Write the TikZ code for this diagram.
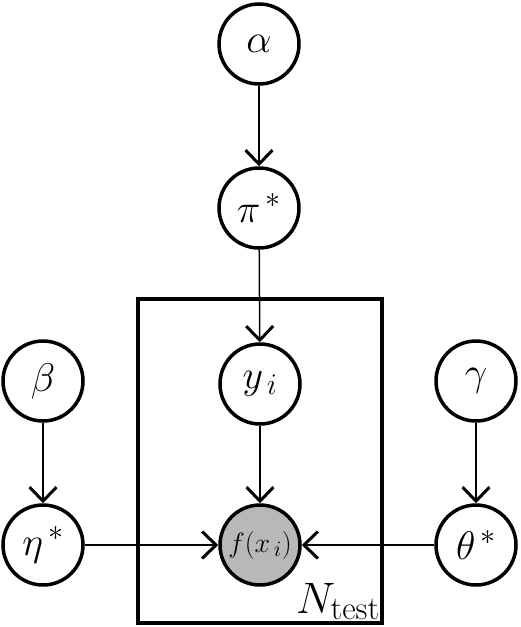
\RequirePackage{fix-cm}
\documentclass[tikz,border=0pt]{standalone}
\usetikzlibrary{arrows.meta}
\DeclareMathSizes{40}{40}{30}{22}
\DeclareMathSizes{28}{28}{22}{16}
\DeclareMathSizes{44}{44}{33}{24}
\begin{document}
\begin{tikzpicture}[x=1pt,y=-1pt,
  var/.style={circle,draw=black,line width=3.5pt,minimum size=80pt,inner sep=0pt,fill=white,font=\fontsize{40}{46}\selectfont},
  obs/.style={var,fill=black!28},
  edge/.style={line width=1.5pt,-{Straight Barb[length=14pt,width=27pt,line width=3pt]}},
  plate/.style={draw=black,line width=3.5pt}]
\useasboundingbox (0,0) rectangle (521,627);
\draw[plate] (138,299) rectangle (382,623);
\node[var] (alpha) at (259,44) {$\alpha$};
\node[var] (pi) at (259,208) {$\pi^{\,*}$};
\node[var] (y) at (260,384) {$y_{\,i}$};
\node[obs,font=\fontsize{28}{32}\selectfont] (f) at (260,545) {$f(x_{\,i})$};
\node[var] (beta) at (43,381) {$\beta$};
\node[var] (eta) at (43,545) {$\eta^{\,*}$};
\node[var] (gamma) at (476,381) {$\gamma$};
\node[var] (theta) at (476,545) {$\theta^{\,*}$};
\node[anchor=south east,inner sep=1pt,font=\fontsize{44}{50}\selectfont] (N) at (381,621) {$N_{\mathrm{test}}$};
\draw[edge] (alpha) -- (pi);
\draw[edge] (pi) -- (y);
\draw[edge] (y) -- (f);
\draw[edge] (beta) -- (eta);
\draw[edge] (gamma) -- (theta);
\draw[edge] (eta) -- (f);
\draw[edge] (theta) -- (f);
\end{tikzpicture}
\end{document}
